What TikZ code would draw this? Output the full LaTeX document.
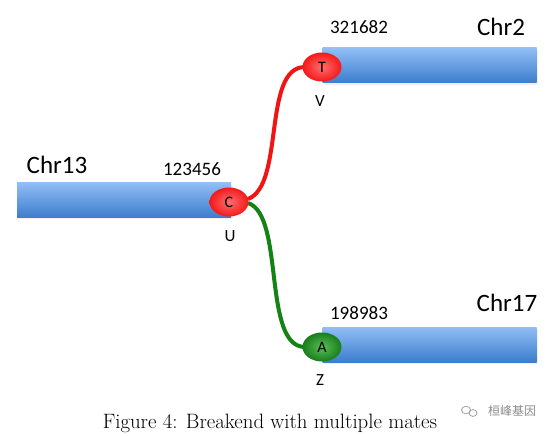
\documentclass[tikz,border=0pt]{standalone}
\usepackage{fontspec}
\setmainfont{Carlito}
\newfontfamily\capfont{Latin Modern Roman}
\newfontfamily\cjk{Noto Sans CJK SC}
\usetikzlibrary{shapes.geometric,shadings,shadows}
\definecolor{bartop}{RGB}{145,190,245}
\definecolor{barbot}{RGB}{60,125,205}
\definecolor{ballred}{RGB}{245,25,25}
\definecolor{ballredin}{RGB}{255,110,110}
\definecolor{ballgreen}{RGB}{25,125,25}
\definecolor{ballgreenin}{RGB}{90,190,90}
\definecolor{linkred}{RGB}{240,20,20}
\definecolor{linkgreen}{RGB}{20,130,20}
\begin{document}
\begin{tikzpicture}[x=1pt,y=-1pt,
  chrbar/.style={draw=none, minimum width=214pt, minimum height=35pt, inner sep=0pt,
    top color=bartop, bottom color=barbot},
  redball/.style={ellipse, minimum width=39pt, minimum height=29pt, inner sep=0pt,
    inner color=ballredin, outer color=ballred, font=\fontsize{16}{16}\selectfont},
  greenball/.style={ellipse, minimum width=39pt, minimum height=29pt, inner sep=0pt,
    inner color=ballgreenin, outer color=ballgreen, font=\fontsize{16}{16}\selectfont},
  chrlab/.style={font=\fontsize{25}{25}\selectfont, inner sep=0pt},
  poslab/.style={font=\fontsize{19}{19}\selectfont, inner sep=0pt},
  letlab/.style={font=\fontsize{17}{17}\selectfont, inner sep=0pt},
  redlink/.style={line width=4pt, draw=linkred},
  greenlink/.style={line width=4pt, draw=linkgreen}
]
\useasboundingbox[fill=white] (0,0) rectangle (557,436);
% shadows
\fill[black!6] (18,185) rectangle (233,219);
\fill[black!6] (324,50) rectangle (538,85);
\fill[black!6] (324,329) rectangle (538,364);
% bars
\node[chrbar] (b13) at (124,200) {};
\node[chrbar] (b2) at (429.5,65.5) {};
\node[chrbar] (b17) at (429.5,344.5) {};
% links
\draw[redlink] (248,199) coordinate (rs) .. controls (285,185) and (262,67) .. (305,67) coordinate (re);
\draw[greenlink] (248,203) coordinate (gs) .. controls (285,215) and (262,347) .. (305,347) coordinate (ge);
% balls
\node[redball] (C) at (229,202) {C};
\node[redball] (T) at (322,67) {T};
\node[greenball] (A) at (322,347) {A};
% labels
\node[chrlab] (l13) at (57,165) {Chr13};
\node[chrlab] (l2) at (501,27) {Chr2};
\node[chrlab] (l17) at (507,303) {Chr17};
\node[poslab] (p13) at (192,169) {123456};
\node[poslab] (p2) at (359,27) {321682};
\node[poslab] (p17) at (359,313) {198983};
\node[letlab] (U) at (230,236) {U};
\node[letlab] (V) at (320,101) {V};
\node[letlab] (Z) at (320,380) {Z};
% caption
\node[font=\capfont\fontsize{20.8}{21}\selectfont, inner sep=0pt] (cap) at (270,423) {Figure 4: Breakend with multiple mates};
\node[font=\cjk\fontsize{12}{12}\selectfont, text=black!45, inner sep=0pt] (wm) at (512,411) {桓峰基因};
\draw[black!40, line width=0.7pt] (466,410) ellipse (4.5pt and 3.8pt);
\draw[black!40, line width=0.7pt] (473,413) ellipse (4pt and 3.4pt);
\end{tikzpicture}
\end{document}
